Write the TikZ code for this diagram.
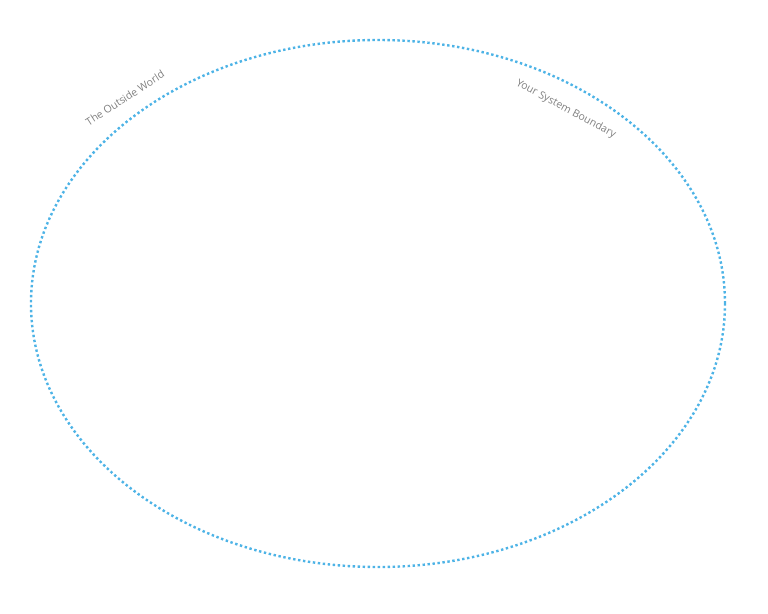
\documentclass[tikz,border=0pt]{standalone}
\usepackage{fontspec}
\setmainfont{Open Sans}
\usetikzlibrary{shapes.geometric}
\definecolor{bnd}{HTML}{4DB3E6}
\definecolor{lbl}{HTML}{808080}
\begin{document}
\begin{tikzpicture}[x=1pt,y=-1pt,
  boundary/.style={draw=bnd,line width=2.4pt,dash pattern=on 2.4pt off 2.6pt},
  lab/.style={text=lbl,font=\fontsize{10.5}{12}\selectfont,inner sep=0pt}]
\useasboundingbox (0,0) rectangle (768,613);
\node[boundary,ellipse,minimum width=694,minimum height=527,inner sep=0pt] (sys) at (378,303.5) {};
\node[lab,rotate=33] (outside) at (125,98) {The Outside World};
\node[lab,rotate=-28] (yours) at (566,109) {Your System Boundary};
\end{tikzpicture}
\end{document}
